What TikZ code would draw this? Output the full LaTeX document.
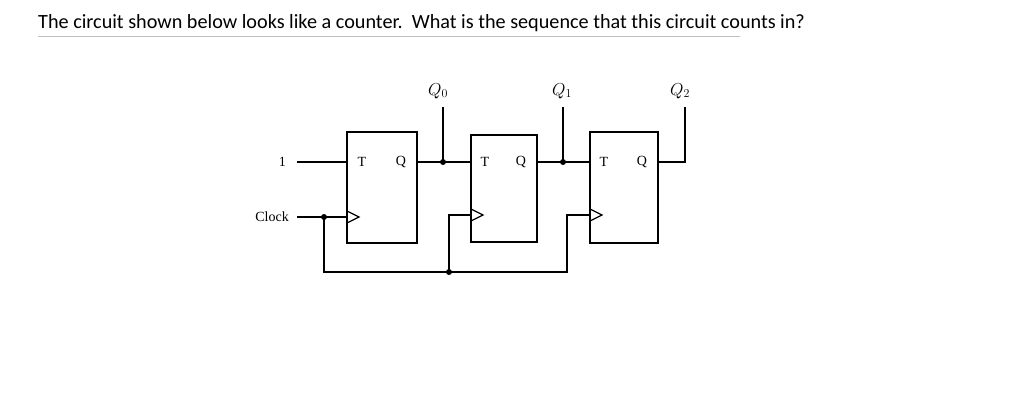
\documentclass[tikz,border=0pt]{standalone}
\usepackage{fontspec}
\setmainfont{Liberation Serif}
\newfontfamily\hdr{Carlito}
\begin{document}
\begin{tikzpicture}[x=1pt,y=-1pt,
  ff/.style={draw,line width=1.2pt},
  w/.style={line width=1.2pt},
  dot/.style={circle,fill,inner sep=0pt,minimum size=6pt},
  lbl/.style={font=\fontsize{14}{15}\selectfont,inner sep=0pt},
  qlbl/.style={font=\fontsize{18}{19}\selectfont,inner sep=0pt}]
\useasboundingbox (0,0) rectangle (1024,402);
\node[anchor=west,inner sep=0pt,font=\hdr\fontsize{20.2}{22}\selectfont] (title) at (38,23) {The circuit shown below looks like a counter.\ \ What is the sequence that this circuit counts in?};
\draw[gray!50,line width=0.6pt] (38,36) -- (740,36);
% boxes
\draw[ff] (347,132) rectangle (417,243);
\draw[ff] (471,135) rectangle (537,242);
\draw[ff] (590,132) rectangle (658,243);
\foreach \x/\y in {347/217,471/215,590/215}{\draw[w] (\x,\y-6) -- (\x+12,\y) -- (\x,\y+6);}
\node[lbl] (t0) at (362,162) {T}; \node[lbl] (q0) at (401,162) {Q};
\node[lbl] (t1) at (485,162) {T}; \node[lbl] (q1) at (521,162) {Q};
\node[lbl] (t2) at (604,162) {T}; \node[lbl] (q2) at (642,162) {Q};
\node[lbl,anchor=east] (one) at (286,162) {1};
\node[lbl,anchor=east] (clk) at (289,217) {Clock};
\coordinate (j0) at (443,162); \coordinate (j1) at (563,162);
\coordinate (jc) at (324,217); \coordinate (jb) at (449,272);
\draw[w] (297,162) -- (347,162);
\draw[w] (417,162) -- (471,162);
\draw[w] (537,162) -- (590,162);
\draw[w] (658,162) -- (685,162) -- (685,107);
\draw[w] (j0) -- (443,107);
\draw[w] (j1) -- (563,107);
\draw[w] (297,217) -- (347,217);
\draw[w] (jc) -- (324,272) -- (567,272) -- (567,215) -- (590,215);
\draw[w] (jb) -- (449,215) -- (471,215);
\node[dot] at (j0) {}; \node[dot] at (j1) {}; \node[dot] at (jc) {}; \node[dot] at (jb) {};
\node[qlbl] (l0) at (438,91) {$Q_0$};
\node[qlbl] (l1) at (562,91) {$Q_1$};
\node[qlbl] (l2) at (680,91) {$Q_2$};
\end{tikzpicture}
\end{document}
